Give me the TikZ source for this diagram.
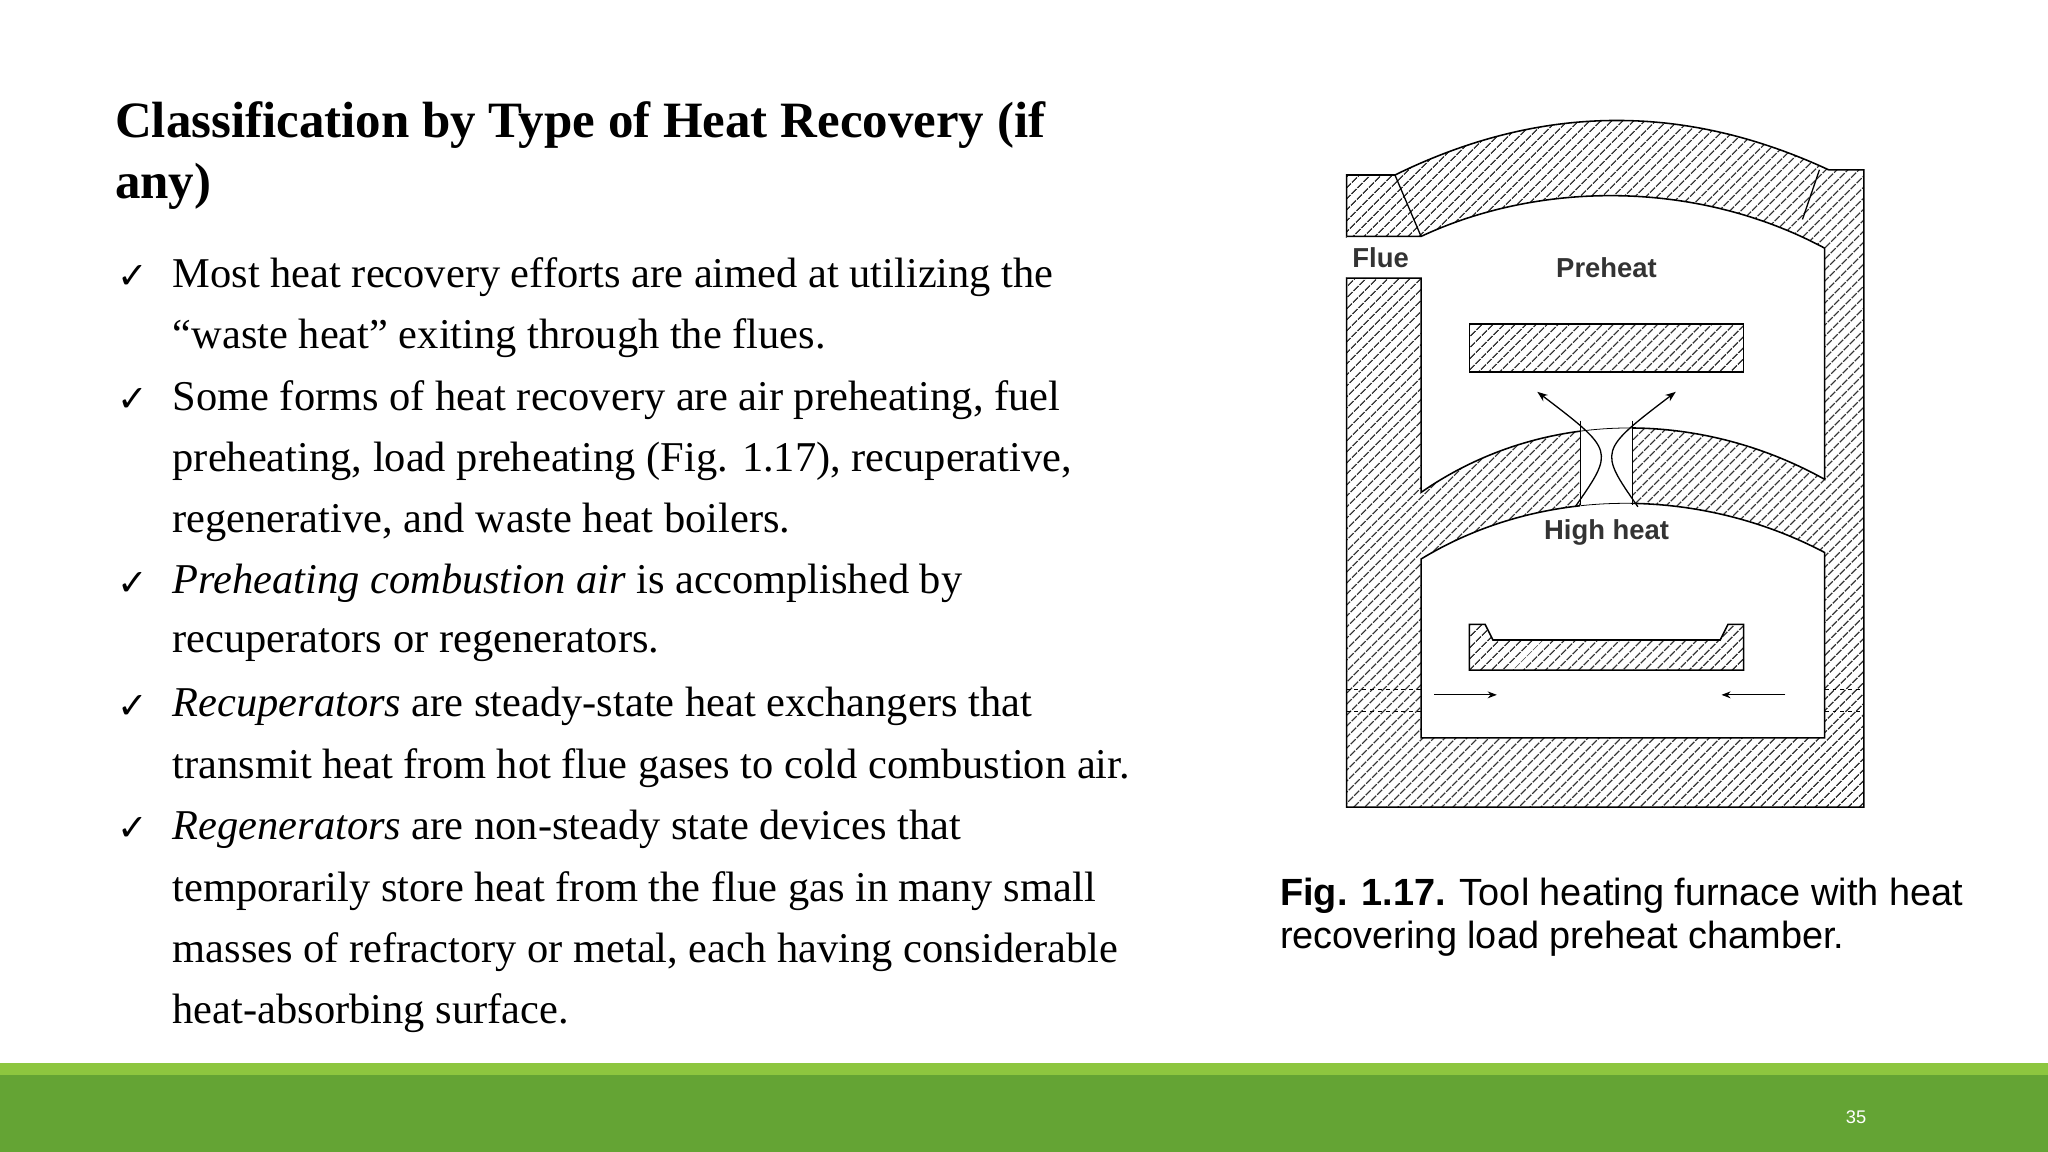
\documentclass[tikz,border=0pt]{standalone}
\usepackage{fontspec}
\setmainfont{Liberation Serif}
\setsansfont{Liberation Sans}
\newfontfamily\djv{DejaVu Sans}
\usetikzlibrary{patterns.meta,arrows.meta}
\definecolor{dkgreen}{HTML}{64A434}
\definecolor{ltgreen}{HTML}{8DC63F}
\tikzset{
  bl/.style={anchor=west,inner sep=0pt,font=\fontsize{32.5}{36}\selectfont},
  ck/.style={anchor=west,inner sep=0pt,font=\djv\bfseries\fontsize{28}{30}\selectfont},
  ttl/.style={anchor=west,inner sep=0pt,font=\bfseries\fontsize{39}{44}\selectfont},
  hatch/.style={pattern={Lines[angle=45,distance=6.5pt,line width=1.3pt]},pattern color=black!80},
  lab/.style={font=\sffamily\bfseries\fontsize{21}{24}\selectfont,text=black!80,inner sep=0pt},
  captxt/.style={anchor=west,inner sep=0pt,font=\sffamily\fontsize{29}{32}\selectfont}
}
\begin{document}
\begin{tikzpicture}[x=1pt,y=-1pt]
\useasboundingbox (0,0) rectangle (1568,882);
\fill[white] (0,0) rectangle (1568,882);
% title
\node[ttl] (t1) at (88,96) {Classification by Type of Heat Recovery (if};
\node[ttl] (t2) at (88,143) {any)};
% bullets
\foreach \y in {212,306,447,541,635} \node[ck] at (90,\y) {✓};
\node[bl] (b1) at (132,212) {Most heat recovery efforts are aimed at utilizing the};
\node[bl] (b2) at (132,259) {“waste heat” exiting through the flues.};
\node[bl] (b3) at (132,306) {Some forms of heat recovery are air preheating, fuel};
\node[bl] (b4) at (132,353) {preheating, load preheating (Fig. 1.17), recuperative,};
\node[bl] (b5) at (132,400) {regenerative, and waste heat boilers.};
\node[bl] (b6) at (132,447) {\textit{Preheating combustion air} is accomplished by};
\node[bl] (b7) at (132,494) {recuperators or regenerators.};
\node[bl] (b8) at (132,541) {\textit{Recuperators} are steady-state heat exchangers that};
\node[bl] (b9) at (132,588) {transmit heat from hot flue gases to cold combustion air.};
\node[bl] (b10) at (132,635) {\textit{Regenerators} are non-steady state devices that};
\node[bl] (b11) at (132,682) {temporarily store heat from the flue gas in many small};
\node[bl] (b12) at (132,729) {masses of refractory or metal, each having considerable};
\node[bl] (b13) at (132,776) {heat-absorbing surface.};
% furnace body
\draw[hatch,line width=1.2pt]
  (1031,134) -- (1068,134) .. controls (1180,79) and (1290,79) .. (1400,130) -- (1427,130)
  -- (1427,618) -- (1031,618) -- cycle;
% upper cavity + flue
\draw[fill=white,line width=1.2pt]
  (1031,181) -- (1088,181) .. controls (1180,138) and (1300,138) .. (1397,190)
  -- (1397,367) .. controls (1300,313) and (1180,313) .. (1088,377) -- (1088,213) -- (1031,213);
\fill[white] (1029,182) rectangle (1090,212);
% lower cavity
\draw[fill=white,line width=1.2pt]
  (1088,428) .. controls (1180,372) and (1300,372) .. (1397,423) -- (1397,565) -- (1088,565) -- cycle;
% slot
\fill[white] (1210,318) rectangle (1250,392);
\begin{scope}
\clip (1210,300) rectangle (1250,400);
\draw[line width=0.6pt] (1397,367) .. controls (1300,313) and (1180,313) .. (1088,377);
\draw[line width=0.6pt] (1088,428) .. controls (1180,372) and (1300,372) .. (1397,423);
\end{scope}
\draw[line width=1pt] (1210,322) -- (1210,387) (1250,322) -- (1250,387);
% joints
\draw[line width=1pt] (1068,134) -- (1088,181) (1393,130) -- (1380,168);
% plate and tray
\draw[hatch,line width=1.2pt] (1125,248) rectangle (1335,285);
\draw[hatch,line width=1.2pt] (1125,478) -- (1137,478) -- (1143,490) -- (1317,490) -- (1323,478)
  -- (1335,478) -- (1335,513) -- (1125,513) -- cycle;
% dashed joints
\draw[dashed,line width=0.8pt] (1031,528) -- (1088,528) (1031,545) -- (1088,545)
  (1397,528) -- (1427,528) (1397,545) -- (1427,545);
% flow arrows
\coordinate (la) at (1098,532); \coordinate (lb) at (1146,532);
\coordinate (ra) at (1367,532); \coordinate (rb) at (1318,532);
\draw[-{Stealth[length=7pt]},line width=0.8pt] (la) -- (lb);
\draw[-{Stealth[length=7pt]},line width=0.8pt] (ra) -- (rb);
\coordinate (c1) at (1206,388); \coordinate (c2) at (1177,300);
\coordinate (c3) at (1254,388); \coordinate (c4) at (1283,300);
\draw[-{Stealth[length=8pt]},line width=1pt] (c1) .. controls (1236,345) .. (c2);
\draw[-{Stealth[length=8pt]},line width=1pt] (c3) .. controls (1224,345) .. (c4);
% labels
\node[lab] (flue) at (1057,197) {Flue};
\node[lab] (pre) at (1230,205) {Preheat};
\node[lab] (hh) at (1230,408) {High heat};
% caption
\node[captxt] (c1t) at (980,686) {\textbf{Fig. 1.17.} Tool heating furnace with heat};
\node[captxt] (c2t) at (980,719) {recovering load preheat chamber.};
% footer
\fill[ltgreen] (0,814) rectangle (1568,823);
\fill[dkgreen] (0,823) rectangle (1568,882);
\node[text=white,font=\sffamily\fontsize{14}{16}\selectfont] (pg) at (1421,855) {35};
\end{tikzpicture}
\end{document}
